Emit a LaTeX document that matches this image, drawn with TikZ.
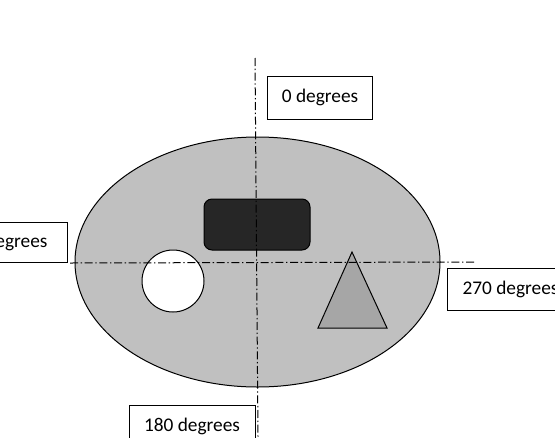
\documentclass[tikz,border=0pt]{standalone}
\usepackage{fontspec}
\setmainfont{Carlito}
\tikzset{
    degbox/.style={draw, fill=white, line width=0.75pt, inner xsep=10.5pt,
        minimum height=31pt, font=\fontsize{14.5}{17}\selectfont},
    axisline/.style={line width=0.75pt, dash pattern=on 6pt off 2pt on 1pt off 2pt},
}
\begin{document}
\begin{tikzpicture}[x=0.75pt,y=0.75pt]
    \useasboundingbox (0,0) rectangle (555,437);

    \draw [line width=0.75pt,fill={rgb,255:red,192;green,192;blue,192}]
        (257.5,175) ellipse [x radius=182.5, y radius=125];
    \draw [line width=0.75pt,fill={rgb,255:red,38;green,38;blue,38},rounded corners=6pt]
        (204,238) rectangle (310,187);
    \draw [line width=0.75pt,fill=white] (173,156) circle [radius=31];
    \draw [line width=0.75pt,fill={rgb,255:red,166;green,166;blue,166}]
        (352,185) -- (318,109) -- (387,109) -- cycle;

    \coordinate (vtop) at (255,379);
    \coordinate (vbot) at (258,0);
    \coordinate (hleft) at (70,174);
    \coordinate (hright) at (475,175);
    \draw [axisline] (vtop) -- (vbot);
    \draw [axisline] (hleft) -- (hright);

    \node [degbox, minimum width=78pt, minimum height=32.25pt] (deg0) at (320,339.5) {0 degrees};
    \node [degbox, anchor=east, inner xsep=15pt, minimum height=30pt] (deg90) at (68,195) {90 degrees};
    \node [degbox, anchor=west, inner xsep=11.25pt] (deg270) at (447,147.5) {270 degrees};
    \node [degbox, anchor=north, minimum width=94.5pt] (deg180) at (192,32) {180 degrees};

\end{tikzpicture}
\end{document}
